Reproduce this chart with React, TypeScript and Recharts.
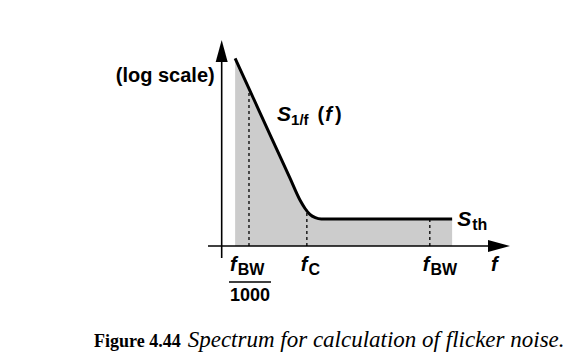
import {
  ComposedChart,
  Area,
  XAxis,
  YAxis,
  ReferenceLine,
  ReferenceDot,
} from "recharts";

// log10(f) relative to fBW/1000, and log10(S / Sth)
const logF = [-0.23, 0, 0.35, 0.68, 0.85, 0.93, 1.01, 1.1, 1.2, 3.37];
const logS = [1.22, 0.99, 0.64, 0.31, 0.14, 0.08, 0.035, 0.01, 0, 0];

// dashed markers
const markF = [0, 0.96, 3];
const markS = [0.99, 0.07, 0];

// tick labels under the axis
const tickValues = [0, 0.96, 3, 4.08];
const tickMain = ["f", "f", "f", "f"];
const tickSub = ["BW", "C", "BW", ""];
const tickDenom = ["1000", "", "", ""];

const X_DOMAIN: [number, number] = [-0.68, 4.33];
const Y_DOMAIN: [number, number] = [-0.205, 1.36];
const Y_AXIS_X = -0.453;
const Y_AXIS_BOTTOM = -0.296;

const data = logF.map((f, i) => ({ f, s: logS[i] }));

const FONT = "'Liberation Sans', Arial, Helvetica, sans-serif";
const SERIF = "'Liberation Serif', 'Times New Roman', serif";

function FreqTick(props: any) {
  const { x, y, payload } = props;
  const i = tickValues.indexOf(payload.value);
  if (i < 0) return null;
  const shift = [-19, -6, -7, -4][i];
  return (
    <g>
      <text x={x + shift} y={y + 25} fontFamily={FONT} fontWeight="bold" fill="#000">
        <tspan fontStyle="italic" fontSize={20}>
          {tickMain[i]}
        </tspan>
        {tickSub[i] && (
          <tspan fontSize={16} dx={1} dy={4}>
            {tickSub[i]}
          </tspan>
        )}
      </text>
      {tickDenom[i] && (
        <>
          <line x1={x - 20} x2={x + 22} y1={y + 36} y2={y + 36} stroke="#000" strokeWidth={1.4} />
          <text
            x={x + 1}
            y={y + 55}
            textAnchor="middle"
            fontFamily={FONT}
            fontWeight="bold"
            fontSize={18}
            fill="#000"
          >
            {tickDenom[i]}
          </text>
        </>
      )}
    </g>
  );
}

/* ===== Arrow heads ===== */
const ArrowRight = ({ cx, cy }: any) => (
  <polygon points={`${cx},${cy} ${cx - 22},${cy - 6} ${cx - 22},${cy + 6}`} fill="#000" />
);
const ArrowUp = ({ cx, cy }: any) => (
  <polygon points={`${cx},${cy} ${cx - 6},${cy + 22} ${cx + 6},${cy + 22}`} fill="#000" />
);

/* ===== Text labels ===== */
const LogScaleLabel = ({ cx, cy }: any) => (
  <text x={cx - 7} y={cy + 42} textAnchor="end" fontFamily={FONT} fontWeight="bold" fontSize={20} fill="#000">
    (log scale)
  </text>
);

const FlickerLabel = ({ cx, cy }: any) => (
  <text x={cx + 7} y={cy - 14} fontFamily={FONT} fontWeight="bold" fill="#000">
    <tspan fontStyle="italic" fontSize={21}>S</tspan>
    <tspan fontSize={15} dy={4}>1/f</tspan>
    <tspan fontSize={20} dx={9} dy={-4}>(</tspan>
    <tspan fontStyle="italic" fontSize={20} dx={1}>f</tspan>
    <tspan fontSize={20} dx={3}>)</tspan>
  </text>
);

const ThermalLabel = ({ cx, cy }: any) => (
  <text x={cx + 5} y={cy + 7} fontFamily={FONT} fontWeight="bold" fill="#000">
    <tspan fontStyle="italic" fontSize={21}>S</tspan>
    <tspan fontSize={16} dx={1} dy={4}>th</tspan>
  </text>
);

export default function App() {
  return (
    <div style={{ position: "relative", width: 565, height: 346 }}>
      <ComposedChart
        width={565}
        height={300}
        data={data}
        margin={{ top: 32, right: 63, bottom: 32, left: 200 }}
      >
        <XAxis
          dataKey="f"
          type="number"
          domain={X_DOMAIN}
          allowDataOverflow
          ticks={tickValues}
          tick={<FreqTick />}
          axisLine={false}
          tickLine={false}
          tickSize={0}
          tickMargin={0}
          interval={0}
          height={30}
        />
        <YAxis type="number" domain={Y_DOMAIN} allowDataOverflow hide />

        <Area
          dataKey="s"
          type="monotone"
          baseValue="dataMin"
          fill="#cccccc"
          fillOpacity={1}
          stroke="#000"
          strokeWidth={3}
          dot={false}
          activeDot={false}
          isAnimationActive={false}
        />

        {markF.map((f, i) => (
          <ReferenceLine
            key={i}
            segment={[
              { x: f, y: Y_DOMAIN[0] },
              { x: f, y: markS[i] },
            ]}
            stroke="#000"
            strokeWidth={1.3}
            strokeDasharray="3 3"
          />
        ))}

        {/* axes */}
        <ReferenceLine
          segment={[
            { x: X_DOMAIN[0], y: Y_DOMAIN[0] },
            { x: X_DOMAIN[1] - 0.3, y: Y_DOMAIN[0] },
          ]}
          stroke="#000"
          strokeWidth={1.6}
          ifOverflow="visible"
        />
        <ReferenceLine
          segment={[
            { x: Y_AXIS_X, y: Y_AXIS_BOTTOM },
            { x: Y_AXIS_X, y: Y_DOMAIN[1] - 0.15 },
          ]}
          stroke="#000"
          strokeWidth={1.6}
          ifOverflow="visible"
        />
        <ReferenceDot x={X_DOMAIN[1]} y={Y_DOMAIN[0]} r={0} shape={ArrowRight} ifOverflow="visible" />
        <ReferenceDot x={Y_AXIS_X} y={Y_DOMAIN[1]} r={0} shape={ArrowUp} ifOverflow="visible" />

        {/* labels */}
        <ReferenceDot x={Y_AXIS_X} y={Y_DOMAIN[1]} r={0} shape={LogScaleLabel} ifOverflow="visible" />
        <ReferenceDot x={logF[2]} y={logS[2]} r={0} shape={FlickerLabel} ifOverflow="visible" />
        <ReferenceDot
          x={logF[logF.length - 1]}
          y={logS[logS.length - 1]}
          r={0}
          shape={ThermalLabel}
          ifOverflow="visible"
        />
      </ComposedChart>

      <svg
        width={565}
        height={346}
        style={{ position: "absolute", left: 0, top: 0, pointerEvents: "none" }}
      >
        <text x={86} y={339} fontFamily={SERIF} fill="#000">
          <tspan fontWeight="bold" fontSize={18}>Figure 4.44</tspan>
          <tspan fontStyle="italic" fontSize={23} dx={7}>
            Spectrum for calculation of flicker noise.
          </tspan>
        </text>
      </svg>
    </div>
  );
}
